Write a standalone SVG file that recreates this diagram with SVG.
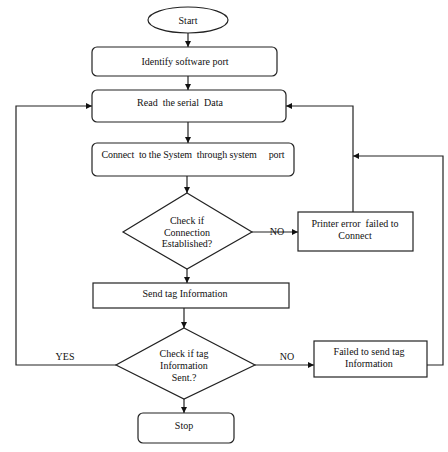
<svg xmlns="http://www.w3.org/2000/svg" width="448" height="452" viewBox="0 0 448 452">
<style>
.s{fill:#fff;stroke:#222;stroke-width:1.2}
.t{font-family:"Liberation Serif","Times New Roman",serif;font-size:10px;fill:#111;text-anchor:middle}
.c{fill:none;stroke:#222;stroke-width:1.2}
</style>
<defs>
<marker id="a" markerWidth="7" markerHeight="7" refX="6" refY="3.5" orient="auto" markerUnits="userSpaceOnUse">
<path d="M0,0.5 L6,3.5 L0,6.5 Z" fill="#111"/>
</marker>
</defs>
<rect width="448" height="452" fill="#fff"/>
<g id="connectors">
<path class="c" d="M188,33 V47" marker-end="url(#a)"/>
<path class="c" d="M188,76 V90" marker-end="url(#a)"/>
<path class="c" d="M188,122 V143" marker-end="url(#a)"/>
<path class="c" d="M187,176 V193" marker-end="url(#a)"/>
<path class="c" d="M252,232 H298" marker-end="url(#a)"/>
<path class="c" d="M353,212 V106 H286" marker-end="url(#a)"/>
<path class="c" d="M187,269 V283" marker-end="url(#a)"/>
<path class="c" d="M184,308 V328" marker-end="url(#a)"/>
<path class="c" d="M116,365 H16 V106 H92" marker-end="url(#a)"/>
<path class="c" d="M255,365 H314" marker-end="url(#a)"/>
<path class="c" d="M427,365 H443 V156 H353" marker-end="url(#a)"/>
<path class="c" d="M184,399 V413" marker-end="url(#a)"/>
<text class="t" x="277" y="235" font-size="11">NO</text>
<text class="t" x="65" y="360" font-size="11">YES</text>
<text class="t" x="287" y="360" font-size="11">NO</text>
</g>
<g id="start">
<ellipse class="s" cx="188" cy="20" rx="40" ry="13"/>
<text class="t" x="188" y="24">Start</text>
</g>
<g id="identify">
<rect class="s" x="92" y="47" width="185" height="29" rx="5"/>
<text class="t" x="185" y="65">Identify  software  port</text>
</g>
<g id="read">
<rect class="s" x="92" y="90" width="194" height="32" rx="5"/>
<text class="t" x="180" y="106" xml:space="preserve">Read  the serial  Data</text>
</g>
<g id="connect">
<rect class="s" x="92" y="143" width="202" height="33" rx="5"/>
<text class="t" x="193" y="158" textLength="183" lengthAdjust="spacing" xml:space="preserve">Connect  to the System  through system     port</text>
</g>
<g id="check1">
<polygon class="s" points="187,193 252,232 187,269 123,232"/>
<text class="t" x="187" y="224">Check if</text>
<text class="t" x="187" y="236">Connection</text>
<text class="t" x="187" y="247">Established?</text>
</g>
<g id="printer">
<rect class="s" x="298" y="212" width="115" height="39"/>
<text class="t" x="355" y="227" xml:space="preserve">Printer error  failed to</text>
<text class="t" x="355" y="239">Connect</text>
</g>
<g id="send">
<rect class="s" x="93" y="283" width="196" height="25"/>
<text class="t" x="185" y="297">Send tag  Information</text>
</g>
<g id="check2">
<polygon class="s" points="184,328 255,365 184,399 116,365"/>
<text class="t" x="184" y="357">Check if tag</text>
<text class="t" x="184" y="369">Information</text>
<text class="t" x="184" y="381">Sent.?</text>
</g>
<g id="failed">
<rect class="s" x="314" y="341" width="113" height="36"/>
<text class="t" x="369" y="355">Failed to send tag</text>
<text class="t" x="369" y="367">Information</text>
</g>
<g id="stop">
<rect class="s" x="138" y="413" width="96" height="30" rx="5"/>
<text class="t" x="184" y="429">Stop</text>
</g>
</svg>
